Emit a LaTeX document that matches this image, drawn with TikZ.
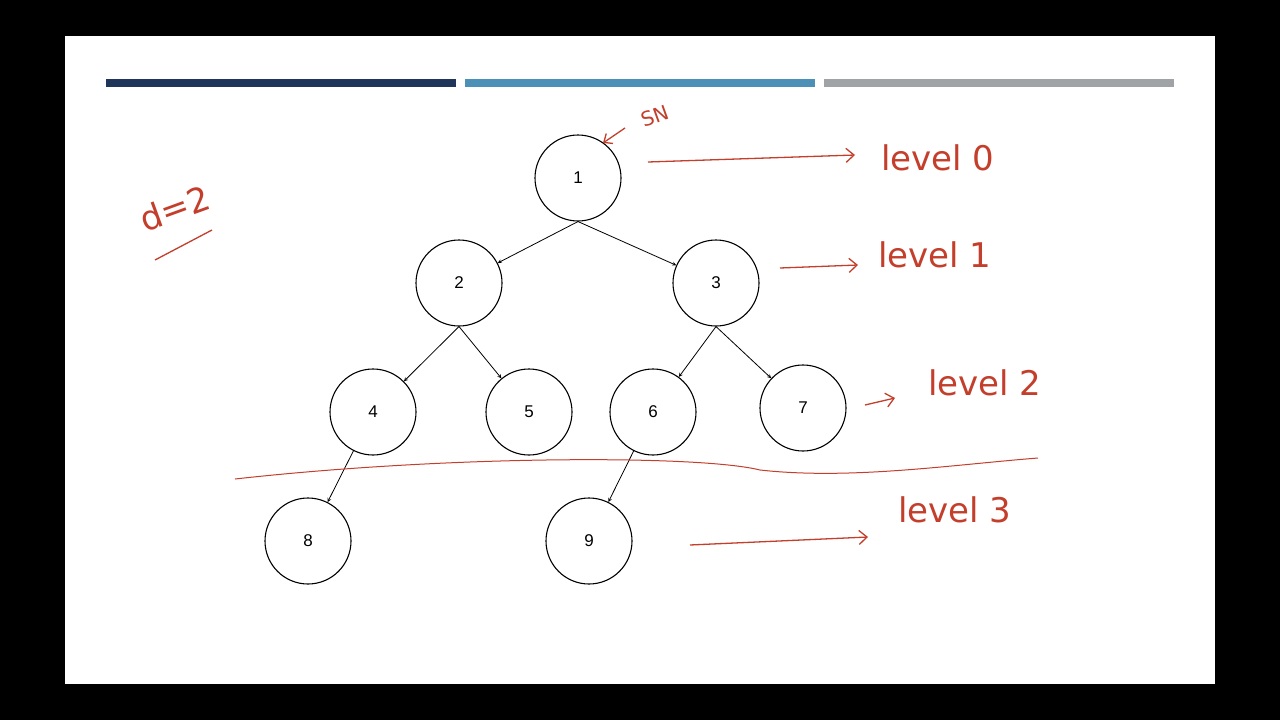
\documentclass[tikz,border=0pt]{standalone}
\usetikzlibrary{arrows.meta}
\usepackage{fontspec}
\setmainfont{Liberation Sans}
\newfontfamily\hand{DejaVu Sans}
\begin{document}
\begin{tikzpicture}[x=1pt,y=-1pt,
  tn/.style={circle,draw,line width=1.1pt,minimum size=86pt,inner sep=0pt,font=\fontsize{17}{17}\selectfont},
  ed/.style={-stealth,line width=0.8pt},
  ink/.style={draw=inkred,line width=1.3pt},
  hw/.style={text=inkred,font=\hand\fontsize{34}{34}\selectfont}]
\definecolor{inkred}{RGB}{196,62,44}
\fill[black] (0,0) rectangle (1280,720);
\fill[white] (65,36) rectangle (1215,684);
\useasboundingbox (0,0) rectangle (1280,720);
\fill[fill={rgb,255:red,31;green,53;blue,89}] (106,79) rectangle (456,87);
\fill[fill={rgb,255:red,76;green,143;blue,183}] (465,79) rectangle (815,87);
\fill[fill={rgb,255:red,160;green,163;blue,166}] (824,79) rectangle (1174,87);
\node[tn] (n1) at (578,178) {1};
\node[tn] (n2) at (459,283) {2};
\node[tn] (n3) at (716,283) {3};
\node[tn] (n4) at (373,412) {4};
\node[tn] (n5) at (529,412) {5};
\node[tn] (n6) at (653,412) {6};
\node[tn] (n7) at (803,408) {7};
\node[tn] (n8) at (308,541) {8};
\node[tn] (n9) at (589,541) {9};
\draw[ed] (n1.south) -- (n2);
\draw[ed] (n1.south) -- (n3);
\draw[ed] (n2.south) -- (n4);
\draw[ed] (n2.south) -- (n5);
\draw[ed] (n3.south) -- (n6);
\draw[ed] (n3.south) -- (n7);
\draw[ed] (n4) -- (n8);
\draw[ed] (n6) -- (n9);
% handwriting
\coordinate (a0s) at (648,162); \coordinate (a0e) at (855,155);
\coordinate (a1s) at (780,268); \coordinate (a1e) at (858,265);
\coordinate (a2s) at (865,405); \coordinate (a2e) at (895,398);
\coordinate (a3s) at (690,545); \coordinate (a3e) at (868,537);
\coordinate (s1) at (625,128); \coordinate (s2) at (603,143);
\draw[ink,-{Straight Barb[length=8pt,width=14pt]}] (a0s) -- (a0e);
\draw[ink,-{Straight Barb[length=8pt,width=14pt]}] (a1s) -- (a1e);
\draw[ink,-{Straight Barb[length=8pt,width=14pt]}] (a2s) -- (a2e);
\draw[ink,-{Straight Barb[length=8pt,width=14pt]}] (a3s) -- (a3e);
\draw[ink,-{Straight Barb[length=7pt,width=12pt]}] (s1) -- (s2);
\draw[inkred,line width=1pt] (235,479) .. controls (450,455) and (700,455) .. (760,470) .. controls (850,480) and (950,465) .. (1038,458);
\draw[ink] (155,260) -- (212,230);
\node[hw] (txt0) at (938,158) {level 0};
\node[hw] (txt1) at (935,255) {level 1};
\node[hw] (txt2) at (985,383) {level 2};
\node[hw] (txt3) at (955,510) {level 3};
\node[hw,rotate=20] (txtd) at (175,208) {d=2};
\node[hw,font=\hand\fontsize{20}{20}\selectfont,rotate=20] (txtsn) at (655,116) {SN};
\end{tikzpicture}
\end{document}
